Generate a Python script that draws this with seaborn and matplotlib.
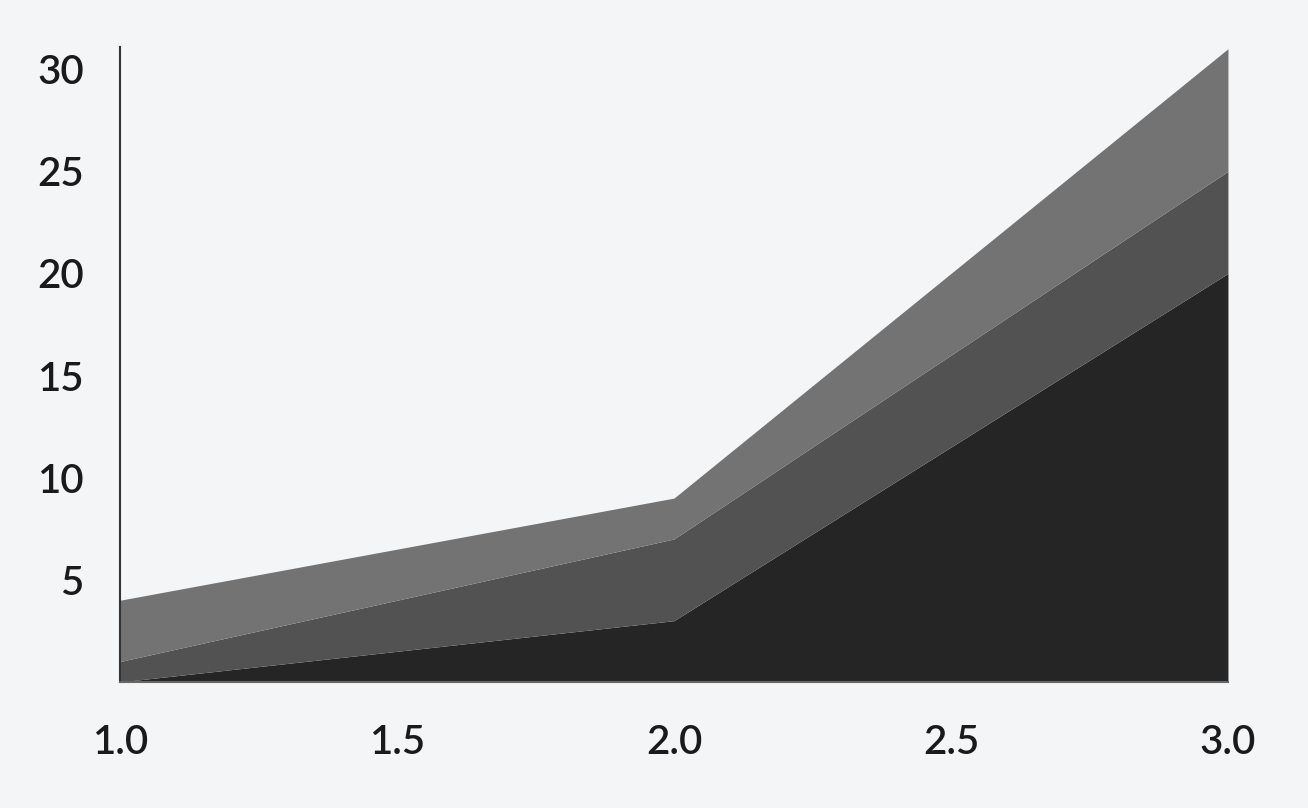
import numpy as np
import seaborn as sns
import matplotlib.pyplot as plt

# Data
x = [1, 2, 3]
layer_bottom = [0, 3, 20]
layer_middle = [1, 4, 5]
layer_top = [3, 2, 6]
colors = ["#252525", "#525252", "#737373"]

sns.set_theme(style="white")
plt.rcParams["font.family"] = ["Lato", "DejaVu Sans"]

bg = "#f4f5f7"
fig = plt.figure(figsize=(13.08, 8.08), dpi=100, facecolor=bg)
ax = fig.add_axes([0.0917, 0.156, 0.8471, 0.7862], facecolor=bg)

stacks = np.cumsum([layer_bottom, layer_middle, layer_top], axis=0)
base = np.zeros(len(x))
for top, c in zip(stacks, colors):
    ax.fill_between(x, base, top, color=c, linewidth=0)
    base = top

ax.set_xlim(1, 3)
ax.set_ylim(0, 31.1)
ax.set_xticks([1.0, 1.5, 2.0, 2.5, 3.0])
ax.set_xticklabels(["1.0", "1.5", "2.0", "2.5", "3.0"])
ax.set_yticks([5, 10, 15, 20, 25, 30])

for s in ["top", "right"]:
    ax.spines[s].set_visible(False)
ax.spines["left"].set_color("#333333")
ax.spines["left"].set_linewidth(1.5)
ax.spines["bottom"].set_color("#666666")
ax.spines["bottom"].set_linewidth(1.5)

ax.tick_params(axis="both", length=0, labelsize=29, colors="#1a1a1a")
ax.tick_params(axis="x", pad=30)
ax.tick_params(axis="y", pad=26)
for lbl in ax.get_xticklabels() + ax.get_yticklabels():
    lbl.set_fontweight("semibold")

plt.savefig("out.png", dpi=100, facecolor=bg)
